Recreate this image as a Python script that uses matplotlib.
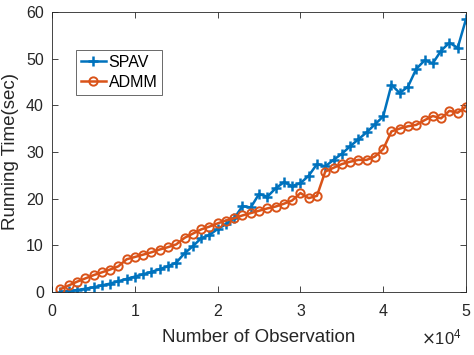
import matplotlib
matplotlib.use("Agg")
import matplotlib.pyplot as plt
from matplotlib.ticker import FuncFormatter

plt.rcParams['font.family'] = ['Liberation Sans', 'DejaVu Sans']

# number of observations: 1000, 2000, ..., 50000
n_obs = [1000 * (i + 1) for i in range(50)]

spav = [0.1, 0.2, 0.4, 0.7, 1.0, 1.4, 1.8, 2.3, 2.8, 3.3,
        3.8, 4.3, 4.9, 5.5, 6.3, 8.3, 9.8, 11.5, 12.2, 13.5,
        14.5, 15.8, 18.4, 18.1, 21.0, 20.4, 22.2, 23.5, 22.7, 23.3,
        24.9, 27.4, 26.9, 28.3, 29.6, 31.2, 32.7, 34.2, 35.9, 37.6,
        44.4, 42.6, 44.0, 47.8, 49.6, 49.0, 51.7, 53.4, 52.3, 58.4]

admm = [0.6, 1.4, 2.2, 2.9, 3.6, 4.2, 4.8, 5.5, 7.0, 7.5,
        8.0, 8.5, 9.1, 9.6, 10.2, 11.6, 12.5, 13.4, 14.0, 14.7,
        15.3, 15.8, 16.4, 16.9, 17.4, 17.9, 18.3, 18.9, 19.6, 21.2,
        20.1, 20.6, 25.8, 26.6, 27.4, 27.9, 28.3, 28.3, 29.0, 30.6,
        34.4, 35.0, 35.5, 35.8, 36.8, 37.7, 37.2, 38.8, 38.4, 39.7]

blue = '#0072BD'
orange = '#D95319'
grey = '#262626'

fig = plt.figure(figsize=(4.74, 3.55), dpi=100)
ax = fig.add_axes([0.110, 0.1775, 0.873, 0.789])

ax.plot(n_obs, spav, color=blue, lw=1.8, marker='+', ms=7, mew=1.8, label='SPAV')
ax.plot(n_obs, admm, color=orange, lw=1.8, marker='o', ms=6, mew=1.4,
        mfc='none', label='ADMM')

ax.set_xlim(0, 50000)
ax.set_ylim(0, 60)
ax.set_xticks([0, 10000, 20000, 30000, 40000, 50000])
ax.set_yticks([0, 10, 20, 30, 40, 50, 60])
ax.xaxis.set_major_formatter(FuncFormatter(lambda v, p: f'{v / 1e4:g}'))
ax.tick_params(direction='in', top=True, right=True, length=4, width=0.6,
               colors=grey, labelsize=11.5)
ax.tick_params(axis='x', pad=8.5)
ax.tick_params(axis='y', pad=6)
for s in ax.spines.values():
    s.set_color(grey)
    s.set_linewidth(0.6)

ax.set_xlabel('Number of Observation', fontsize=13.5, color=grey, labelpad=7)
ax.set_ylabel('Running Time(sec)', fontsize=13.5, color=grey, labelpad=5)
fig.text(0.975, 0.03, r'$\times\mathregular{10^4}$', ha='right', va='baseline',
         fontsize=12, color=grey)

leg = ax.legend(loc='upper left', bbox_to_anchor=(0.057, 0.864), fontsize=11.5,
                frameon=True, fancybox=False, handlelength=1.6, handletextpad=0.15,
                borderpad=0.3, labelspacing=0.33, borderaxespad=0)
leg.get_frame().set_edgecolor(grey)
leg.get_frame().set_linewidth(0.6)

fig.savefig('out.png', dpi=100)
